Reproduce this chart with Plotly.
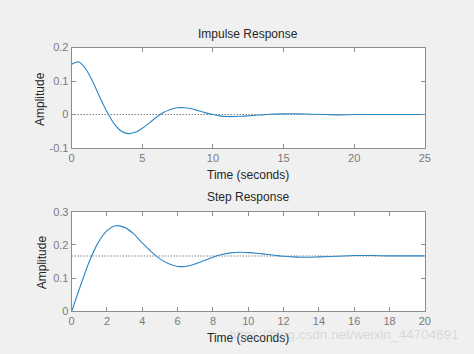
import plotly.graph_objects as go

# ---- data ----
t_imp = [0, 0.5, 1, 1.5, 2, 2.5, 3, 3.5, 4, 4.5, 5, 5.5, 6, 6.5, 7, 7.5, 8, 8.5, 9, 9.5,
         10, 10.5, 11, 11.5, 12, 12.5, 13, 13.5, 14, 15, 16, 17, 18, 19, 20, 22, 25]
h_imp = [0.150, 0.157, 0.136, 0.097, 0.051, 0.008, -0.027, -0.049, -0.057, -0.053, -0.041,
         -0.025, -0.008, 0.006, 0.015, 0.020, 0.020, 0.017, 0.011, 0.005,
         0.000, -0.004, -0.006, -0.006, -0.005, -0.004, -0.002, -0.001, 0.001, 0.002,
         0.002, 0.001, 0.000, -0.001, 0.000, 0.000, 0.000]

t_step = [0, 0.5, 1, 1.5, 2, 2.5, 3, 3.5, 4, 4.5, 5, 5.5, 6, 6.5, 7, 7.5, 8, 8.5, 9, 9.5,
          10, 10.5, 11, 11.5, 12, 12.5, 13, 13.5, 14, 15, 16, 17, 18, 19, 20]
y_step = [0.000, 0.077, 0.150, 0.207, 0.243, 0.258, 0.253, 0.234, 0.206, 0.180, 0.158,
          0.143, 0.135, 0.136, 0.143, 0.153, 0.163, 0.171, 0.176, 0.178,
          0.177, 0.175, 0.172, 0.169, 0.166, 0.164, 0.163, 0.163, 0.164, 0.166,
          0.168, 0.168, 0.167, 0.167, 0.167]

imp_final = 0.0
step_final = 1 / 6

imp_xticks = [0, 5, 10, 15, 20, 25]
imp_yticks = [-0.1, 0, 0.1, 0.2]
imp_yticklabels = ["-0.1", "0", "0.1", "0.2"]
step_xticks = [0, 2, 4, 6, 8, 10, 12, 14, 16, 18, 20]
step_yticks = [0, 0.1, 0.2, 0.3]
step_yticklabels = ["0", "0.1", "0.2", "0.3"]

W, H = 474, 354
LINE = "#2a86c6"
AX = "#8c8c8c"
TICKTXT = "#7a7a7a"
LABEL = "#262626"
FONT = "Liberation Sans, Arial, Helvetica, sans-serif"

fig = go.Figure()

fig.add_trace(go.Scatter(x=[0, 25], y=[imp_final, imp_final], mode="lines",
                         line=dict(color="#444444", width=1, dash="1px,2px"),
                         xaxis="x", yaxis="y", hoverinfo="skip"))
fig.add_trace(go.Scatter(x=t_imp, y=h_imp, mode="lines",
                         line=dict(color=LINE, width=1.1, shape="spline", smoothing=1.0),
                         xaxis="x", yaxis="y"))
fig.add_trace(go.Scatter(x=[0, 20], y=[step_final, step_final], mode="lines",
                         line=dict(color="#444444", width=1, dash="1px,2px"),
                         xaxis="x2", yaxis="y2", hoverinfo="skip"))
fig.add_trace(go.Scatter(x=t_step, y=y_step, mode="lines",
                         line=dict(color=LINE, width=1.1, shape="spline", smoothing=1.0),
                         xaxis="x2", yaxis="y2"))

def px_x(p):
    return p / W

def px_y(p):
    return 1 - p / H

common_axis = dict(showline=True, linecolor=AX, linewidth=1, mirror="allticks",
                   ticks="inside", ticklen=4, tickcolor=AX, tickwidth=1,
                   showgrid=False, zeroline=False,
                   tickfont=dict(family=FONT, size=11, color=TICKTXT))

xdom = [px_x(70), px_x(430)]
fig.update_layout(
    width=W, height=H,
    margin=dict(l=0, r=0, t=0, b=0),
    paper_bgcolor="#f0f0f0",
    plot_bgcolor="#ffffff",
    showlegend=False,
    font=dict(family=FONT),
    xaxis=dict(domain=xdom, range=[0, 25], tickvals=imp_xticks, anchor="y", **common_axis),
    yaxis=dict(domain=[px_y(147), px_y(43)], range=[-0.1, 0.2], tickvals=imp_yticks,
               ticktext=imp_yticklabels, anchor="x", **common_axis),
    xaxis2=dict(domain=xdom, range=[0, 20], tickvals=step_xticks, anchor="y2", **common_axis),
    yaxis2=dict(domain=[px_y(316), px_y(213)], range=[0, 0.3], tickvals=step_yticks,
                ticktext=step_yticklabels, anchor="x2", **common_axis),
)

def ann(text, x, y, size=12, color=LABEL, angle=0):
    fig.add_annotation(text=text, x=px_x(x), y=px_y(y), xref="paper", yref="paper",
                       showarrow=False, textangle=angle, xanchor="center", yanchor="middle",
                       font=dict(family=FONT, size=size, color=color))

ann("Impulse Response", 250, 29)
ann("Time (seconds)", 250, 175)
ann("Amplitude", 37, 96, angle=-90)
ann("Step Response", 250, 198)
ann("Time (seconds)", 250, 344)
ann("Amplitude", 40, 265, angle=-90)

fig.add_annotation(text="https://blog.csdn.net/weixin_44704691", x=px_x(467), y=px_y(340),
                   xref="paper", yref="paper", showarrow=False, xanchor="right",
                   yanchor="middle",
                   font=dict(family=FONT, size=13.5, color="rgba(170,170,170,0.35)"))

fig.write_html("out.html")
